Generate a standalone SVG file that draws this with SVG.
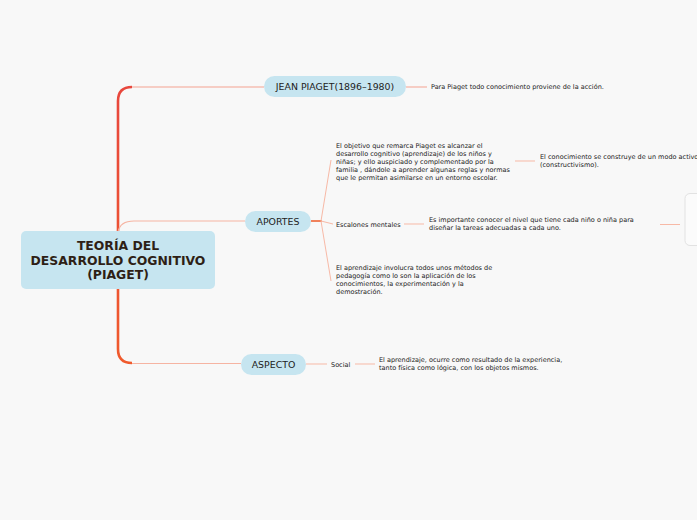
<svg xmlns="http://www.w3.org/2000/svg" width="697" height="520" viewBox="0 0 697 520">
<defs>
<linearGradient id="trunk" x1="0" y1="87" x2="0" y2="364" gradientUnits="userSpaceOnUse">
<stop offset="0" stop-color="#e8473d"/>
<stop offset="1" stop-color="#f05a2c"/>
</linearGradient>
<style>
.bg{fill:#f8f8f8}
.main{fill:#c6e5f0}
.topic{fill:#c6e5f0}
.title{font-family:"DejaVu Sans",Verdana,sans-serif;font-weight:bold;font-size:12.4px;fill:#2e1f16;text-anchor:middle}
.tl{font-family:"DejaVu Sans",Verdana,sans-serif;font-size:9.4px;fill:#222;text-anchor:middle}
.sm{font-family:"DejaVu Sans",Verdana,sans-serif;font-size:6.5px;fill:#222}
.br{fill:none;stroke:#f6b4a2;stroke-width:1.2}
.br2{fill:none;stroke:#f4a291;stroke-width:1}
.sub{fill:none;stroke:#f7b9a6;stroke-width:1}
</style>
</defs>
<rect class="bg" x="0" y="0" width="697" height="520"/>
<g id="connectors">
<path d="M118,232 L118,101 Q118,87 132,87" fill="none" stroke="url(#trunk)" stroke-width="2.6"/>
<path d="M118,232 L118,349 Q118,363 132,363" fill="none" stroke="url(#trunk)" stroke-width="2.6"/>
<path class="br2" d="M132,87 L264,87"/>
<path class="br" d="M118,232 Q120,221 134,221 L245,221"/>
<path class="br" d="M132,363.5 L241,363.5"/>
<path class="br2" d="M406,87 L427,87"/>
<path d="M311,221 L322,221" stroke="#f0825c" stroke-width="2" fill="none"/>
<path class="sub" d="M321,221 L331,160"/>
<path class="sub" d="M321,221 L333,224"/>
<path class="sub" d="M321,221 L331,281"/>
<path class="sub" d="M515,161 L535,161"/>
<path class="sub" d="M404,224 L424,224"/>
<path class="sub" d="M660,224.5 L680,224.5"/>
<path class="sub" d="M306,364 L327,364"/>
<path class="sub" d="M355,364 L375,364"/>
</g>
<g id="central">
<rect class="main" x="21" y="231" width="194" height="58" rx="5"/>
<text class="title" x="118" y="250">TEORÍA DEL</text>
<text class="title" x="118" y="265">DESARROLLO COGNITIVO</text>
<text class="title" x="118" y="279">(PIAGET)</text>
</g>
<g id="jean">
<rect class="topic" x="264" y="76" width="142" height="21" rx="10.5"/>
<text class="tl" x="335" y="90">JEAN PIAGET(1896–1980)</text>
</g>
<g id="jean-note">
<text class="sm" x="431" y="89">Para Piaget todo conocimiento proviene de la acción.</text>
</g>
<g id="aportes">
<rect class="topic" x="245" y="211" width="66" height="21" rx="10.5"/>
<text class="tl" x="278" y="224.5">APORTES</text>
</g>
<g id="objetivo">
<text class="sm" x="336" y="148">El objetivo que remarca Piaget es alcanzar el</text>
<text class="sm" x="336" y="156">desarrollo cognitivo (aprendizaje) de los niños y</text>
<text class="sm" x="336" y="164">niñas; y ello auspiciado y complementado por la</text>
<text class="sm" x="336" y="172">familia , dándole a aprender algunas reglas y normas</text>
<text class="sm" x="336" y="180">que le permitan asimilarse en un entorno escolar.</text>
</g>
<g id="constructivismo">
<text class="sm" x="540" y="159">El conocimiento se construye de un modo activo</text>
<text class="sm" x="540" y="167">(constructivismo).</text>
</g>
<g id="escalones">
<text class="sm" x="336" y="226.5">Escalones mentales</text>
</g>
<g id="nivel">
<text class="sm" x="429" y="222">Es importante conocer el nivel que tiene cada niño o niña para</text>
<text class="sm" x="429" y="230">diseñar la tareas adecuadas a cada uno.</text>
</g>
<g id="empty-box">
<rect x="685" y="193.5" width="40" height="52" rx="5" fill="#fbfbfb" stroke="#e2e2e2" stroke-width="1"/>
</g>
<g id="metodos">
<text class="sm" x="336" y="270">El aprendizaje involucra todos unos métodos de</text>
<text class="sm" x="336" y="278">pedagogía como lo son la aplicación de los</text>
<text class="sm" x="336" y="286">conocimientos, la experimentación y la</text>
<text class="sm" x="336" y="294">demostración.</text>
</g>
<g id="aspecto">
<rect class="topic" x="241" y="354" width="65" height="21" rx="10.5"/>
<text class="tl" x="273.5" y="367.5">ASPECTO</text>
</g>
<g id="social">
<text class="sm" x="331" y="366.5">Social</text>
</g>
<g id="experiencia">
<text class="sm" x="379" y="362">El aprendizaje, ocurre como resultado de la experiencia,</text>
<text class="sm" x="379" y="370">tanto física como lógica, con los objetos mismos.</text>
</g>
</svg>
